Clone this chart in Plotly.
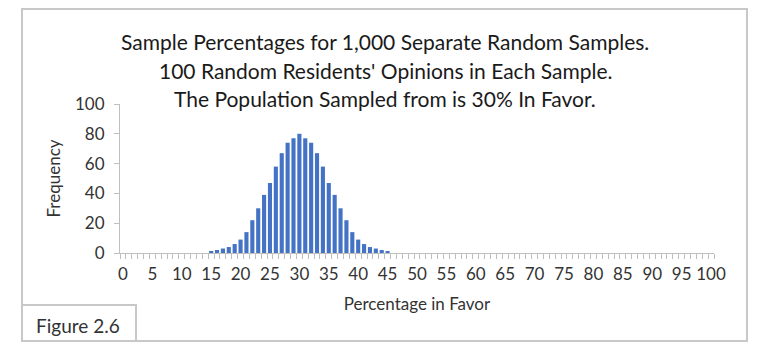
import plotly.graph_objects as go

# Data
percentages = list(range(0, 101))
freq_by_pct = {15: 1, 16: 2, 17: 3, 18: 4, 19: 6, 20: 9, 21: 14, 22: 22, 23: 30, 24: 39,
               25: 47, 26: 58, 27: 67, 28: 74, 29: 77, 30: 80, 31: 77, 32: 74, 33: 67,
               34: 58, 35: 47, 36: 39, 37: 30, 38: 22, 39: 14, 40: 9, 41: 6, 42: 4,
               43: 3, 44: 2, 45: 1}
frequencies = [freq_by_pct.get(p, 0) for p in percentages]
x_tick_vals = list(range(0, 101, 5))
y_tick_vals = [0, 20, 40, 60, 80, 100]
title_lines = ["Sample Percentages for 1,000 Separate Random Samples.",
               "100 Random Residents' Opinions in Each Sample.",
               "The Population Sampled from is 30% In Favor."]

W, H = 768, 353
L, R, T, B = 120, 54, 104, 100
pw, ph = W - L - R, H - T - B

def px(x):
    return (x - L) / pw

def py(y):
    return (H - B - y) / ph

FONT = "Lato"
TXT = "#333333"
fig = go.Figure(go.Bar(x=percentages, y=frequencies, marker_color="#4472C4",
                       marker_line_width=0))

fig.update_layout(
    width=W, height=H, margin=dict(l=L, r=R, t=T, b=B),
    paper_bgcolor="white", plot_bgcolor="white", bargap=0.3, showlegend=False,
    font=dict(family=FONT, color=TXT),
)
fig.update_xaxes(range=[-0.5, 100.5], tickvals=x_tick_vals, ticks="",
                 minor=dict(ticks="outside", tick0=0.5, dtick=1, ticklen=5,
                            tickcolor="#bfbfbf", tickwidth=1),
                 showline=True, linecolor="#bfbfbf", linewidth=1, showgrid=False,
                 zeroline=False, ticklabelstandoff=6,
                 tickfont=dict(size=17, color=TXT),
                 title=dict(text="Percentage in Favor", standoff=14,
                            font=dict(size=17, color=TXT)))
fig.update_yaxes(range=[0, 100], tickvals=y_tick_vals, ticks="outside", ticklen=5,
                 tickcolor="#bfbfbf", showline=True, linecolor="#bfbfbf", linewidth=1,
                 showgrid=False, zeroline=False, ticklabelstandoff=6,
                 tickfont=dict(size=17, color=TXT),
                 title=dict(text="Frequency", standoff=10,
                            font=dict(size=17, color=TXT)))

for i, (line, yy) in enumerate(zip(title_lines, [42, 70, 98])):
    fig.add_annotation(text=line, x=px(385), y=py(yy), xref="paper", yref="paper",
                       showarrow=False, xanchor="center", yanchor="middle",
                       font=dict(size=21, color="#1a1a1a", family=FONT))

fig.add_annotation(text="Figure 2.6", x=px(78), y=py(325), xref="paper", yref="paper",
                   showarrow=False, xanchor="center", yanchor="middle",
                   font=dict(size=19, color=TXT, family=FONT))

fig.add_shape(type="rect", xref="paper", yref="paper", x0=px(22), x1=px(747),
              y0=py(341), y1=py(9), line=dict(color="#c8c8c8", width=2), layer="below")
fig.add_shape(type="rect", xref="paper", yref="paper", x0=px(22), x1=px(136),
              y0=py(341), y1=py(305), line=dict(color="#c8c8c8", width=2), layer="below")

fig.write_html("out.html")
